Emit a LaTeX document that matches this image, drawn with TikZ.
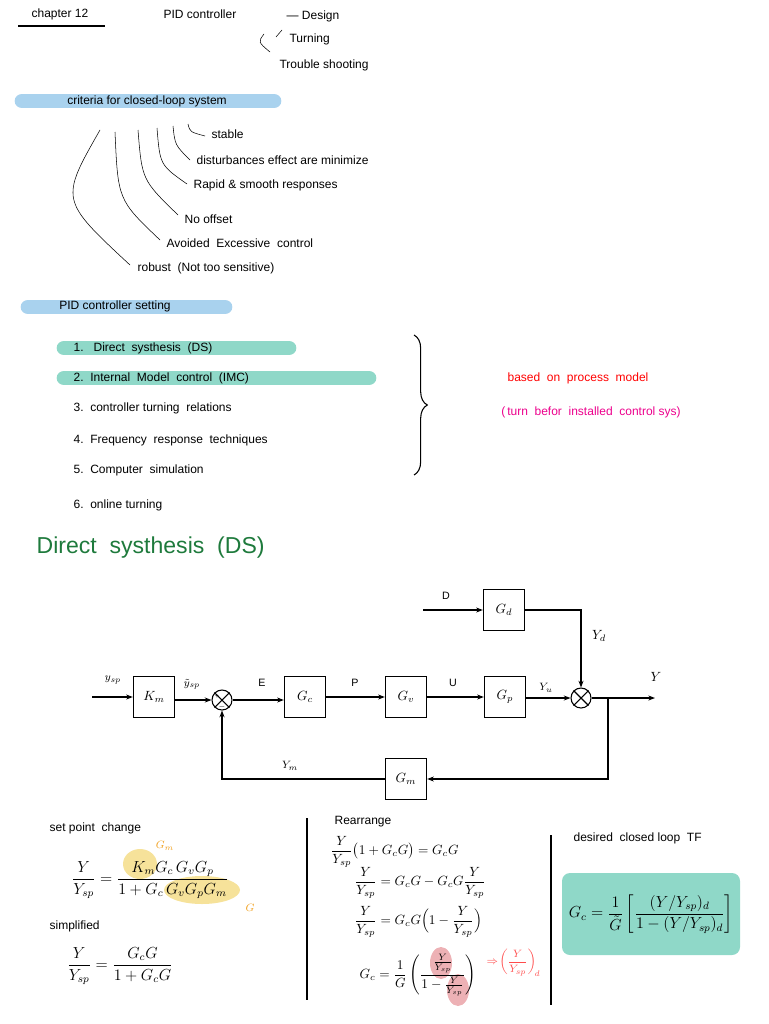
\documentclass[tikz,border=0pt]{standalone}
\usepackage{amsmath}
\usepackage{fontspec}
\setmainfont{Liberation Sans}
\usetikzlibrary{arrows.meta,decorations.pathreplacing}
\definecolor{hlblue}{HTML}{A9D2EE}
\definecolor{hlgreen}{HTML}{8FD8C8}
\definecolor{hlyellow}{HTML}{F6E29A}
\definecolor{hlpink}{HTML}{EDB1B5}
\definecolor{dsgreen}{HTML}{1E7A3C}
\definecolor{orangec}{HTML}{F0A020}
\tikzset{
  txt/.style={font=\small,inner sep=1pt},
  blk/.style={draw,thick,minimum width=31pt,minimum height=31pt,font=\normalsize},
  sumj/.style={draw,thick,circle,minimum size=15pt,inner sep=0pt},
  sig/.style={thick,-{Stealth[length=5pt]}},
  lbl/.style={font=\footnotesize,inner sep=1pt},
  hl/.style={line cap=round,line width=11pt},
  eq/.style={font=\large},
}
\begin{document}
\begin{tikzpicture}[x=0.75pt,y=-0.75pt]
\useasboundingbox (0,0) rectangle (768,1024);
% header
\node[txt] (ch) at (60,14) {chapter 12};
\draw[thick] (18,26) -- (105,26);
\node[txt] (pid) at (200,14) {PID controller};
\node[txt,anchor=west] (des) at (285,16) {--- Design};
\node[txt,anchor=west] (tur) at (288,39) {Turning};
\node[txt,anchor=west] (tro) at (278,65) {Trouble shooting};
\draw (282,30) -- (276,37);
\draw (264,34) .. controls (258,42) .. (270,52);
% criteria
\draw[hlblue,hl] (22,101) -- (274,101);
\node[txt] (crit) at (147,101) {criteria for closed-loop system};
\node[txt,anchor=west] (c1) at (210,134) {stable};
\node[txt,anchor=west] (c2) at (195,160) {disturbances effect are minimize};
\node[txt,anchor=west] (c3) at (192,185) {Rapid \& smooth responses};
\node[txt,anchor=west] (c4) at (183,219) {No offset};
\node[txt,anchor=west] (c5) at (165,243) {Avoided\ \ Excessive\ \ control};
\node[txt,anchor=west] (c6) at (136,268) {robust\ \ (Not too sensitive)};
\draw (188,124) .. controls (190,132) .. (205,136);
\draw (173,126) .. controls (175,145) .. (190,160);
\draw (157,128) .. controls (160,165) .. (187,184);
\draw (138,130) .. controls (142,180) .. (178,215);
\draw (115,132) .. controls (118,200) .. (160,240);
\draw (100,130) .. controls (60,200) .. (130,265);
% PID setting
\draw[hlblue,hl] (28,307) -- (225,307);
\node[txt] (pset) at (115,306) {PID controller setting};
\draw[hlgreen,hl] (64,348) -- (289,348);
\draw[hlgreen,hl] (64,378) -- (369,378);
\node[txt,anchor=west] (s1) at (72,348) {1.\ \ \ Direct\ \ systhesis\ \ (DS)};
\node[txt,anchor=west] (s2) at (72,378) {2.\ \ Internal\ \ Model\ \ control\ \ (IMC)};
\node[txt,anchor=west] (s3) at (72,408) {3.\ \ controller\ turning\ \ relations};
\node[txt,anchor=west] (s4) at (72,440) {4.\ \ Frequency\ \ response\ \ techniques};
\node[txt,anchor=west] (s5) at (72,470) {5.\ \ Computer\ \ simulation};
\node[txt,anchor=west] (s6) at (72,505) {6.\ \ online turning};
\draw[thick,decorate,decoration={brace,amplitude=10pt}] (414,335) -- (414,475);
\node[txt,text=red] (bp) at (578,378) {based\ \ on\ \ process\ \ model};
\node[txt,text=magenta] (tb) at (591,412) {(\,turn\ \ befor\ \ installed\ \ control sys)};
\node[font=\LARGE,text=dsgreen,anchor=west] (ds) at (32,548) {Direct\ \ systhesis\ \ (DS)};
% block diagram
\coordinate (in) at (92,697);
\node[blk] (km) at (154,697) {$K_m$};
\node[sumj] (s1c) at (222,700) {};
\draw[thick] (s1c.north west) -- (s1c.south east) (s1c.north east) -- (s1c.south west);
\node[blk] (gc) at (305,697) {$G_c$};
\node[blk] (gv) at (406,697) {$G_v$};
\node[blk] (gp) at (505,697) {$G_p$};
\node[sumj] (s2c) at (581,698) {};
\draw[thick] (s2c.north west) -- (s2c.south east) (s2c.north east) -- (s2c.south west);
\node[blk] (gd) at (504,610) {$G_d$};
\node[blk] (gm) at (406,779) {$G_m$};
\coordinate (din) at (423,610);
\coordinate (out) at (655,698);
\coordinate (br) at (608,698);
\draw[sig] (in) -- (km);
\draw[sig] (km.east |- s1c) -- (s1c);
\draw[sig] (s1c) -- (gc.west |- s1c);
\draw[sig] (gc) -- (gv);
\draw[sig] (gv) -- (gp);
\draw[sig] (gp.east |- s2c) -- (s2c);
\draw[sig] (s2c) -- (out);
\draw[sig] (din) -- (gd);
\draw[sig] (gd.east) -| (s2c.north);
\draw[sig] (br) |- (gm.east);
\draw[sig] (gm.west) -| (s1c.south);
\node[lbl] at (113,680) {$y_{sp}$};
\node[lbl] at (192,684) {$\tilde y_{sp}$};
\node[lbl] at (262,683) {E};
\node[lbl] at (355,683) {P};
\node[lbl] at (453,683) {U};
\node[lbl] at (546,688) {$Y_u$};
\node[lbl,font=\normalsize] at (656,677) {$Y$};
\node[lbl] at (446,596) {D};
\node[lbl,font=\normalsize] at (599,636) {$Y_d$};
\node[lbl] at (290,766) {$Y_m$};
\node[font=\tiny] at (217,697) {+};
\node[font=\tiny] at (222,707) {$-$};
% bottom
\draw[thick] (307,818) -- (307,1000);
\draw[thick] (551,835) -- (551,1005);
\node[txt,anchor=west] (spc) at (48,828) {set point\ \ change};
\fill[hlyellow] (140,864) ellipse (17 and 15);
\fill[hlyellow] (202,890) ellipse (38 and 14);
\node[eq] (eq1) at (150,880) {$\dfrac{Y}{Y_{sp}} = \dfrac{K_m G_c\, G_v G_p}{1 + G_c\, G_v G_p G_m}$};
\node[text=orangec,font=\footnotesize] at (165,846) {$G_m$};
\node[text=orangec,font=\footnotesize] at (250,908) {$G$};
\node[txt,anchor=west] (simp) at (48,926) {simplified};
\node[eq] (eq2) at (120,966) {$\dfrac{Y}{Y_{sp}} = \dfrac{G_c G}{1 + G_c G}$};
\node[txt,anchor=west] (rea) at (333,822) {Rearrange};
\node[anchor=west] (r1) at (326,852) {$\dfrac{Y}{Y_{sp}}\bigl(1+G_cG\bigr) = G_cG$};
\node[anchor=west] (r2) at (350,883) {$\dfrac{Y}{Y_{sp}} = G_cG - G_cG\dfrac{Y}{Y_{sp}}$};
\node[anchor=west] (r3) at (350,922) {$\dfrac{Y}{Y_{sp}} = G_cG\Bigl(1-\dfrac{Y}{Y_{sp}}\Bigr)$};
\fill[hlpink] (441,963) ellipse (11 and 16);
\fill[hlpink] (458,990) ellipse (11 and 16);
\node[anchor=west] (r4) at (355,975) {$G_c = \dfrac{1}{G}\left(\dfrac{\frac{Y}{Y_{sp}}}{1-\frac{Y}{Y_{sp}}}\right)$};
\node[anchor=west,text=red!70,font=\footnotesize] at (482,963) {$\Rightarrow\!\left(\dfrac{Y}{Y_{sp}}\right)_{\!d}$};
\node[txt,anchor=west] (dcl) at (572,838) {desired\ \ closed loop\ \ TF};
\fill[hlgreen,rounded corners=6pt] (562,873) rectangle (740,955);
\node[eq] (gcf) at (651,914) {$G_c = \dfrac{1}{\tilde G}\left[\dfrac{(Y/Y_{sp})_d}{1-(Y/Y_{sp})_d}\right]$};
\end{tikzpicture}
\end{document}
